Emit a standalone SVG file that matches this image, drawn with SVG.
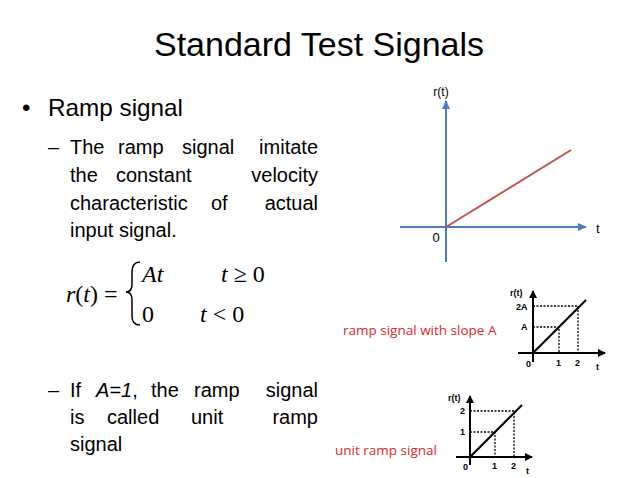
<svg xmlns="http://www.w3.org/2000/svg" width="638" height="478" viewBox="0 0 638 478">
<style>
.t{font-family:"Liberation Sans",Arial,sans-serif;fill:#000}
.m{font-family:"Liberation Serif","Times New Roman",serif;fill:#000;font-size:24px}
.red{font-family:"Open Sans","Liberation Sans",sans-serif;fill:#e0262c;font-size:13.5px}
.s{font-family:"Liberation Sans",Arial,sans-serif;font-weight:bold;font-size:9px;fill:#000}
.ax{stroke:#000;stroke-width:2;fill:none}
.dot{stroke:#000;stroke-width:1.3;stroke-dasharray:2,1.5;fill:none}
</style>
<defs>
<marker id="bl" markerWidth="10" markerHeight="10" refX="8" refY="5" orient="auto" markerUnits="userSpaceOnUse"><path d="M0,1 L9,5 L0,9z" fill="#4a7ec4"/></marker>
<marker id="k" markerWidth="8" markerHeight="8" refX="7" refY="4" orient="auto" markerUnits="userSpaceOnUse"><path d="M0,0 L8,4 L0,8z" fill="#000"/></marker>
</defs>
<rect width="638" height="478" fill="#fff"/>
<text class="t" x="319" y="56" font-size="34" text-anchor="middle" textLength="330" lengthAdjust="spacingAndGlyphs">Standard Test Signals</text>
<g id="text" class="t" font-size="20">
<text x="22" y="116" font-size="24">•</text>
<text x="48" y="116" font-size="24" textLength="135" lengthAdjust="spacingAndGlyphs">Ramp signal</text>
<text x="48" y="154">–</text>
<text y="154"><tspan x="70">The</tspan><tspan x="118">ramp</tspan><tspan x="182">signal</tspan></text>
<text x="318" y="154" text-anchor="end">imitate</text>
<text y="182"><tspan x="70">the</tspan><tspan x="116">constant</tspan></text>
<text x="318" y="182" text-anchor="end">velocity</text>
<text y="210"><tspan x="70">characteristic</tspan><tspan x="211">of</tspan></text>
<text x="318" y="210" text-anchor="end">actual</text>
<text x="70" y="237">input signal.</text>
<text x="48" y="397">–</text>
<text y="397"><tspan x="70">If</tspan><tspan x="96" font-style="italic">A=1</tspan><tspan>,</tspan><tspan x="151">the</tspan><tspan x="194">ramp</tspan></text>
<text x="318" y="397" text-anchor="end">signal</text>
<text y="424"><tspan x="70">is</tspan><tspan x="107">called</tspan><tspan x="191">unit</tspan></text>
<text x="318" y="424" text-anchor="end">ramp</text>
<text x="70" y="451">signal</text>
</g>
<g id="formula">
<text class="m" x="66" y="302"><tspan font-style="italic">r</tspan>(<tspan font-style="italic">t</tspan>) =</text>
<path d="M140,262 Q132,262 132,272 L132,284 Q132,292 126,292 Q132,292 132,300 L132,316 Q132,325 140,325" fill="none" stroke="#000" stroke-width="1.5"/>
<text class="m" x="142" y="282" font-style="italic">At</text>
<text class="m" x="221" y="282"><tspan font-style="italic">t</tspan> ≥ 0</text>
<text class="m" x="142" y="322">0</text>
<text class="m" x="200" y="322"><tspan font-style="italic">t</tspan> &lt; 0</text>
</g>
<g id="graph-main">
<line x1="446" y1="262" x2="446" y2="101" stroke="#4a7ec4" stroke-width="2" marker-end="url(#bl)"/>
<line x1="400" y1="227" x2="586" y2="227" stroke="#4a7ec4" stroke-width="2" marker-end="url(#bl)"/>
<line x1="446" y1="227" x2="571" y2="150" stroke="#c0504d" stroke-width="2"/>
<text class="t" x="441" y="96" font-size="12" text-anchor="middle">r(t)</text>
<text class="t" x="436" y="242" font-size="13" text-anchor="middle">0</text>
<text class="t" x="596" y="233" font-size="13">t</text>
</g>
<g id="graph-slope">
<text class="red" x="343" y="335">ramp signal with slope A</text>
<line class="ax" x1="533" y1="362" x2="533" y2="291" marker-end="url(#k)"/>
<line class="ax" x1="518" y1="353" x2="605" y2="353" marker-end="url(#k)"/>
<line x1="533" y1="353" x2="586" y2="300" stroke="#000" stroke-width="2.2"/>
<path class="dot" d="M533,306 H578 V353 M533,327 H559 V353"/>
<text class="s" x="510" y="296">r(t)</text>
<text class="s" x="516" y="310">2A</text>
<text class="s" x="521" y="330">A</text>
<text class="s" x="526" y="367">0</text>
<text class="s" x="556" y="366">1</text>
<text class="s" x="575" y="366">2</text>
<text class="s" x="596" y="370">t</text>
</g>
<g id="graph-unit">
<text class="red" x="335" y="455">unit ramp signal</text>
<line class="ax" x1="470" y1="465" x2="470" y2="396" marker-end="url(#k)"/>
<line class="ax" x1="456" y1="457" x2="532" y2="457" marker-end="url(#k)"/>
<line x1="470" y1="457" x2="522" y2="405" stroke="#000" stroke-width="2.2"/>
<path class="dot" d="M470,411 H514 V457 M470,432 H495 V457"/>
<text class="s" x="448" y="401">r(t)</text>
<text class="s" x="460" y="414">2</text>
<text class="s" x="460" y="435">1</text>
<text class="s" x="463" y="470">0</text>
<text class="s" x="492" y="469">1</text>
<text class="s" x="511" y="469">2</text>
<text class="s" x="526" y="474">t</text>
</g>
</svg>
